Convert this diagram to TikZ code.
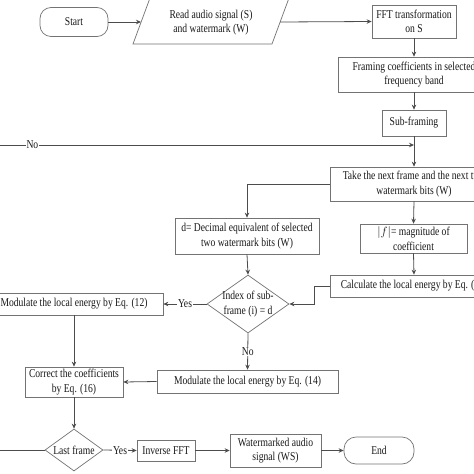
\documentclass[tikz,border=0pt]{standalone}
\usepackage{fontspec}
\setmainfont{Liberation Serif}[FakeStretch=0.8]
\usetikzlibrary{shapes.geometric,arrows.meta}
\definecolor{boxc}{gray}{0.45}
\definecolor{linec}{gray}{0.3}
\begin{document}
\begin{tikzpicture}[x=1pt,y=-1pt,
  every node/.style={font=\fontsize{12}{14.5}\selectfont, text=black!90},
  proc/.style={draw=boxc, line width=0.7pt, fill=white, rectangle, inner sep=0pt, align=center},
  term/.style={proc, rounded corners=11pt},
  dec/.style={draw=boxc, line width=0.7pt, fill=white, diamond, inner sep=0pt, align=center},
  conn/.style={draw=linec, line width=0.8pt, -{Stealth[length=5pt,width=4.5pt]}},
  lbl/.style={fill=white, inner sep=1pt}
]
\useasboundingbox (0,0) rectangle (474,474);
\clip (0,0) rectangle (474,474);
% nodes
\node[term, minimum width=68pt, minimum height=29pt] (start) at (74,22) {Start};
\draw[draw=boxc, line width=0.7pt, fill=white] (133,44) -- (150,-2) -- (289,-2) -- (272,44) -- cycle;
\node[align=center] (read) at (211,22.5) {Read audio signal (S)\\and watermark (W)};
\coordinate (readL) at (141,22);
\coordinate (readR) at (280,22);
\node[proc, minimum width=84pt, minimum height=33pt] (fft) at (414,21.5) {FFT transformation\\on S};
\node[proc, minimum width=152pt, minimum height=35pt] (framing) at (414,74.5) {Framing coefficients in selected\\frequency band};
\node[proc, minimum width=64pt, minimum height=26pt] (sub) at (414,123) {Sub-framing};
\node[proc, minimum width=168pt, minimum height=34pt] (take) at (414,184) {Take the next frame and the next two\\watermark bits (W)};
\node[proc, minimum width=144pt, minimum height=36pt] (dbox) at (247,236) {d= Decimal equivalent of selected\\two watermark bits (W)};
\node[proc, minimum width=107pt, minimum height=29pt] (fbox) at (413.5,238.5) {$|f|$= magnitude of\\coefficient};
\node[proc, minimum width=168pt, minimum height=22pt] (calc) at (414,286) {Calculate the local energy by Eq. (10)};
\node[dec, minimum width=82pt, minimum height=58pt, aspect=1.41] (idx) at (248,304) {};
\node[align=center] at (248,304) {Index of sub-\\frame (i) = d};
\node[proc, minimum width=178pt, minimum height=22pt] (mod12) at (74,304) {Modulate the local energy by Eq. (12)};
\node[proc, minimum width=98pt, minimum height=30pt] (correct) at (74,382) {Correct the coefficients\\by Eq. (16)};
\node[proc, minimum width=181pt, minimum height=23pt] (mod14) at (247.5,381.5) {Modulate the local energy by Eq. (14)};
\node[dec, minimum width=58pt, minimum height=42pt, aspect=1.38] (last) at (74,450) {};
\node at (74,450) {Last frame};
\node[proc, minimum width=58pt, minimum height=21pt] (ifft) at (166,450.5) {Inverse FFT};
\node[proc, minimum width=91pt, minimum height=33pt] (wm) at (275.5,450.5) {Watermarked audio\\signal (WS)};
\node[term, minimum width=70pt, minimum height=27pt, rounded corners=12pt] (end) at (379,450.5) {End};
\coordinate (join) at (414,145);
\coordinate (loopA) at (-10,450);
\coordinate (loopB) at (-10,145);
% connectors
\draw[conn] (start.east) -- (readL);
\draw[conn] (readR) -- (fft.west);
\draw[conn] (fft.south) -- (framing.north);
\draw[conn] (framing.south) -- (sub.north);
\draw[conn] (sub.south) -- (take.north);
\draw[conn] (take.west) -| (dbox.north);
\draw[conn] (take.south) -- (fbox.north);
\draw[conn] (fbox.south) -- (calc.north);
\draw[conn] (calc.west) -- ++(-15,0) |- (idx.east);
\draw[conn] (dbox.south) -- (idx.north);
\draw[conn] (idx.west) -- node[lbl] {Yes} (mod12.east);
\draw[conn] (idx.south) -- node[lbl, pos=0.5] {No} (mod14.north);
\draw[conn] (mod12.south) -- (correct.north);
\draw[conn] (mod14.west) -- (correct.east);
\draw[conn] (correct.south) -- (last.north);
\draw[conn] (last.east) -- node[lbl] {Yes} (ifft.west);
\draw[conn] (ifft.east) -- (wm.west);
\draw[conn] (wm.east) -- (end.west);
\draw[conn] (last.west) -- (loopA) -- (loopB) -- node[lbl, pos=0.1] {No} (join);
\end{tikzpicture}
\end{document}
